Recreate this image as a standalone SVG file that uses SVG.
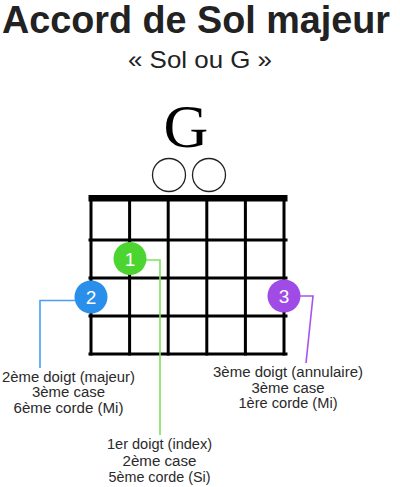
<svg xmlns="http://www.w3.org/2000/svg" width="400" height="487" viewBox="0 0 400 487">
<style>
.t{font-family:"Liberation Sans",Arial,sans-serif;fill:#222}
.lbl{font-family:"Liberation Sans",Arial,sans-serif;font-size:14px;fill:#2a2a2a;text-anchor:middle}
.grid{stroke:#000;stroke-width:3;fill:none}
.num{font-family:"Liberation Sans",Arial,sans-serif;font-size:19px;fill:#fff;text-anchor:middle}
.open{fill:#fff;stroke:#222;stroke-width:1.3}
.con{fill:none;stroke-width:1.6}
</style>
<rect width="400" height="487" fill="#fff"/>
<g id="title">
<text class="t" x="2" y="33" font-size="38" font-weight="bold" textLength="388" lengthAdjust="spacingAndGlyphs">Accord de Sol majeur</text>
<text class="t" x="128" y="68" font-size="24" textLength="144" lengthAdjust="spacingAndGlyphs">« Sol ou G »</text>
</g>
<g id="chord-name">
<text x="186" y="146.5" font-family="'Liberation Serif','Times New Roman',serif" font-size="62" fill="#000" text-anchor="middle">G</text>
</g>
<g id="open-strings">
<circle class="open" cx="169" cy="175" r="16.5"/>
<circle class="open" cx="209" cy="175" r="16.5"/>
</g>
<g id="fretboard">
<rect x="88.5" y="195" width="199" height="6.5" fill="#000"/>
<path class="grid" d="M91,201V355.5M129.6,201V355.5M168.2,201V355.5M206.8,201V355.5M245.4,201V355.5M284,201V355.5"/>
<path class="grid" d="M88.5,240H287.5M88.5,278H287.5M88.5,316H287.5M88.5,354H287.5"/>
</g>
<g id="connectors">
<path class="con" stroke="#7be35a" d="M146,260H160V435"/>
<path class="con" stroke="#4a9ef2" d="M75,300.5H40V368"/>
<path class="con" stroke="#a752ee" d="M300,296H313L306,363"/>
</g>
<g id="finger1">
<circle cx="130" cy="258.5" r="16.5" fill="#4cd431"/>
<text class="num" x="130" y="265.5">1</text>
</g>
<g id="finger2">
<circle cx="91" cy="297" r="16.5" fill="#2a8fea"/>
<text class="num" x="91" y="304">2</text>
</g>
<g id="finger3">
<circle cx="284" cy="296" r="16.5" fill="#a04be6"/>
<text class="num" x="284" y="303">3</text>
</g>
<g id="label2">
<text class="lbl" x="68.5" y="381.5" textLength="133" lengthAdjust="spacingAndGlyphs">2ème doigt (majeur)</text>
<text class="lbl" x="68.5" y="397" textLength="73" lengthAdjust="spacingAndGlyphs">3ème case</text>
<text class="lbl" x="68.5" y="412.5" textLength="110" lengthAdjust="spacingAndGlyphs">6ème corde (Mi)</text>
</g>
<g id="label3">
<text class="lbl" x="288" y="377" textLength="150" lengthAdjust="spacingAndGlyphs">3ème doigt (annulaire)</text>
<text class="lbl" x="288" y="392.5" textLength="73" lengthAdjust="spacingAndGlyphs">3ème case</text>
<text class="lbl" x="288" y="408" textLength="99" lengthAdjust="spacingAndGlyphs">1ère corde (Mi)</text>
</g>
<g id="label1">
<text class="lbl" x="159.5" y="449" textLength="105" lengthAdjust="spacingAndGlyphs">1er doigt (index)</text>
<text class="lbl" x="159.5" y="465.5" textLength="74" lengthAdjust="spacingAndGlyphs">2ème case</text>
<text class="lbl" x="159.5" y="482" textLength="102" lengthAdjust="spacingAndGlyphs">5ème corde (Si)</text>
</g>
</svg>
